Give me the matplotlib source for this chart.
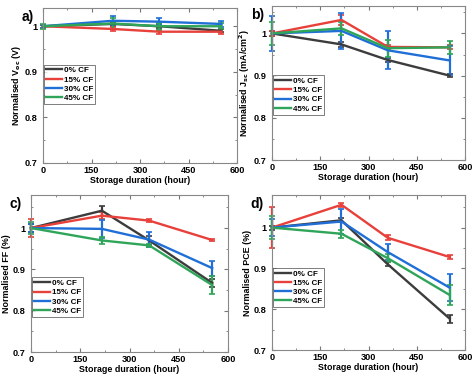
import matplotlib
matplotlib.use("Agg")
import matplotlib.pyplot as plt
from matplotlib.ticker import MultipleLocator
from matplotlib.lines import Line2D

plt.rcParams['font.family'] = ['Liberation Sans', 'DejaVu Sans']
plt.rcParams['font.weight'] = 'bold'
plt.rcParams['mathtext.default'] = 'bf'

hours = [0, 216, 360, 552]
labels = ['0% CF', '15% CF', '30% CF', '45% CF']
colors = ['#3c3c3c', '#e8403a', '#1f6fd6', '#2fa55a']

# Voc
voc = [[1, 1.005, 1.0, 0.99],
       [1, 0.994, 0.988, 0.988],
       [1, 1.012, 1.01, 1.005],
       [1, 1.006, 1.0, 1.0]]
voc_err = [[0.003, 0.004, 0.004, 0.003],
           [0.003, 0.004, 0.004, 0.005],
           [0.003, 0.010, 0.008, 0.007],
           [0.005, 0.012, 0.008, 0.006]]

# Jsc
jsc = [[1, 0.974, 0.937, 0.9],
       [1, 1.032, 0.968, 0.967],
       [1, 1.006, 0.96, 0.936],
       [1, 1.012, 0.965, 0.967]]
jsc_err = [[0.005, 0.005, 0.005, 0.004],
           [0.005, 0.012, 0.005, 0.005],
           [0.042, 0.043, 0.045, 0.035],
           [0.028, 0.015, 0.02, 0.015]]

# FF
ff = [[1, 1.042, 0.97, 0.867],
      [1, 1.03, 1.018, 0.971],
      [1, 0.998, 0.972, 0.903],
      [1, 0.97, 0.958, 0.862]]
ff_err = [[0.01, 0.012, 0.01, 0.01],
          [0.022, 0.008, 0.004, 0.003],
          [0.01, 0.022, 0.018, 0.018],
          [0.015, 0.008, 0.004, 0.022]]

# PCE
pce = [[1, 1.018, 0.91, 0.777],
       [1, 1.056, 0.975, 0.928],
       [1, 1.015, 0.94, 0.853],
       [1, 0.985, 0.925, 0.835]]
pce_err = [[0.005, 0.005, 0.005, 0.01],
           [0.051, 0.005, 0.006, 0.004],
           [0.02, 0.03, 0.02, 0.033],
           [0.028, 0.01, 0.01, 0.024]]

W, H = 474, 378
fig = plt.figure(figsize=(W / 100, H / 100), dpi=100)


def add_ax(l, r, t, b):
    return fig.add_axes([l / W, 1 - b / H, (r - l) / W, (b - t) / H])


panels = [
    (add_ax(43, 237, 8, 163), voc, voc_err, 'Normalised V$_{oc}$ (V)', 1.04, 'a)', 0.64),
    (add_ax(272, 465, 6, 160), jsc, jsc_err, 'Normalised J$_{sc}$ (mA/cm$^2$)', 1.065, 'b)', 0.555),
    (add_ax(31, 228, 195, 352), ff, ff_err, 'Normalised FF (%)', 1.08, 'c)', 0.48),
    (add_ax(272, 465, 195, 350), pce, pce_err, 'Normalised PCE (%)', 1.08, 'd)', 0.535),
]

for ax, vals, errs, ylab, ytop, tag, legy in panels:
    for v, e, c in zip(vals, errs, colors):
        ax.errorbar(hours, v, yerr=e, color=c, lw=1.7, elinewidth=1.6,
                    capsize=2, capthick=1.2, clip_on=False)
    ax.set_xlim(0, 600)
    ax.set_ylim(0.7, ytop)
    ax.set_xticks([0, 150, 300, 450, 600])
    ax.set_yticks([0.7, 0.8, 0.9, 1.0])
    ax.set_yticklabels(['0.7', '0.8', '0.9', '1'])
    ax.xaxis.set_minor_locator(MultipleLocator(75))
    ax.yaxis.set_minor_locator(MultipleLocator(0.05))
    ax.tick_params(which='both', direction='in', top=True, right=True,
                   labelsize=6.6, color='#777777', pad=2)
    ax.tick_params(axis='y', pad=4)
    ax.tick_params(which='major', length=3)
    ax.tick_params(which='minor', length=1.5)
    for s in ax.spines.values():
        s.set_color('#888888')
        s.set_linewidth(0.8)
    ax.set_xlabel('Storage duration (hour)', fontsize=6.4, fontweight='bold', labelpad=1)
    ax.set_ylabel(ylab, fontsize=6.4, fontweight='bold', labelpad=1)
    handles = [Line2D([], [], color=c, lw=1.7) for c in colors]
    leg = ax.legend(handles, labels, loc='upper left', bbox_to_anchor=(0, legy),
                    fontsize=5.8, frameon=True, fancybox=False, handlelength=2.0,
                    handletextpad=0.2, borderpad=0.25, labelspacing=0.2,
                    borderaxespad=0.1)
    leg.get_frame().set_edgecolor('#444444')
    leg.get_frame().set_linewidth(0.6)
    pos = ax.get_position()
    fig.text(pos.x0 - 0.045, pos.y1 - 0.005, tag, fontsize=10, fontweight='bold',
             va='top', ha='left')

fig.savefig('out.png', dpi=100)
